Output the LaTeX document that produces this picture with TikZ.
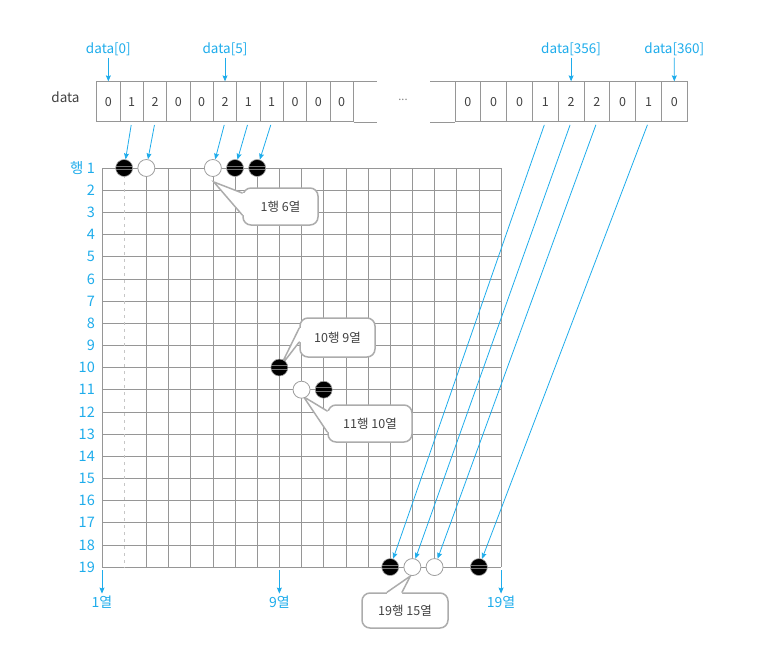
\documentclass[tikz,border=0pt]{standalone}
\usepackage{fontspec}
\setmainfont{Noto Sans CJK KR}
\usetikzlibrary{arrows.meta,calc}
\definecolor{cy}{RGB}{30,172,235}
\definecolor{txt}{RGB}{65,65,65}
\definecolor{gl}{RGB}{150,150,150}
\begin{document}
\begin{tikzpicture}[x=1pt,y=-1pt,
  lab/.style={text=cy,font=\fontsize{13.5}{15}\selectfont,inner sep=1pt},
  rowlab/.style={text=cy,font=\fontsize{14.5}{16}\selectfont,inner sep=0pt,anchor=east},
  lcell/.style={draw=gl,line width=0.7pt,minimum width=23.33pt,minimum height=40pt,inner sep=0pt,text=txt,font=\fontsize{12.5}{14}\selectfont},
  rcell/.style={lcell,minimum width=25.8pt},
  carrow/.style={cy,line width=0.8pt,-{Stealth[length=6pt,width=5pt,inset=1pt]}},
  gridline/.style={gl,line width=0.7pt},
  bstone/.style={circle,minimum size=17pt,inner sep=0pt,fill=black,draw=gray!70,line width=0.6pt,
    path picture={\draw[black!55,line width=0.6pt]
      ([yshift=2.2pt]path picture bounding box.west) -- ([yshift=2.2pt]path picture bounding box.east)
      ([yshift=-1.6pt]path picture bounding box.west) -- ([yshift=-1.6pt]path picture bounding box.east);}},
  wstone/.style={circle,minimum size=17pt,inner sep=0pt,fill=white,draw=gray!75,line width=0.8pt},
  callout/.style={draw=gray!65,line width=1.5pt,fill=white,rounded corners=8pt,inner sep=0pt,text=txt,font=\fontsize{12.5}{14}\selectfont},
  tailline/.style={gray!65,line width=1.5pt,line cap=round}
]
\useasboundingbox (0,0) rectangle (757,650);
\def\cw{22.17}
% ---------- array ----------
\node[text=txt,font=\fontsize{13.5}{15}\selectfont] (dlab) at (65.5,97) {data};
\foreach \v [count=\i from 0] in {0,1,2,0,0,2,1,1,0,0,0}{
  \node[lcell] (L\i) at ({108.35+\i*23.33},101.7) {\v};
}
\draw[gl,line width=0.7pt] (L10.north east) -- ++(23.4,0) (L10.south east) -- ++(23.4,0);
\node[text=gray,font=\fontsize{11}{13}\selectfont] (dots) at (403,100) {...};
\foreach \v [count=\i from 0] in {0,0,0,1,2,2,0,1,0}{
  \node[rcell] (R\i) at ({467.9+\i*25.8},101.7) {\v};
}
\draw[gl,line width=0.7pt] (R0.north west) -- ++(-25,0) (R0.south west) -- ++(-25,0);
% labels above
\node[lab] (d0) at (108.35,49) {data[0]};
\node[lab] (d5) at (225,49) {data[5]};
\node[lab] (d356) at (571.1,49) {data[356]};
\node[lab] (d360) at (674.3,49) {data[360]};
\draw[carrow,shorten <=1pt] (d0) -- (L0);
\draw[carrow,shorten <=1pt] (d5) -- (L5);
\draw[carrow,shorten <=1pt] (d356) -- (R4);
\draw[carrow,shorten <=1pt] (d360) -- (R8);
% ---------- grid ----------
\foreach \r in {1,...,19}{
  \draw[gridline] (102,{168+(\r-1)*\cw}) -- ({102+18*\cw},{168+(\r-1)*\cw});
}
\foreach \c in {1,3,4,...,19}{
  \draw[gridline] ({102+(\c-1)*\cw},168) -- ({102+(\c-1)*\cw},{168+18*\cw});
}
\draw[gray!45,line width=0.7pt,dash pattern=on 3pt off 4pt] ({102+\cw},168) -- ({102+\cw},{168+18*\cw});
% row labels
\node[rowlab] (r1) at (95,168) {행 1};
\foreach \r in {2,...,19}{
  \node[rowlab] (r\r) at (95,{168+(\r-1)*\cw}) {\r};
}
% column labels
\foreach \c/\t in {1/1열,9/9열,19/19열}{
  \coordinate (cb\c) at ({102+(\c-1)*\cw},570);
  \node[lab,font=\fontsize{14}{16}\selectfont] (cl\c) at ({102+(\c-1)*\cw},602) {\t};
  \draw[carrow,shorten >=1pt] (cb\c) -- (cl\c);
}
% ---------- stone coordinates ----------
\foreach \r/\c in {1/2,1/3,1/6,1/7,1/8,10/9,11/10,11/11,19/14,19/15,19/16,19/18}{
  \coordinate (p\r x\c) at ({102+(\c-1)*\cw},{168+(\r-1)*\cw});
}
% ---------- callouts ----------
\node[callout,minimum width=75pt,minimum height=37pt] (c1) at (280.5,206.5) {1행 6열};
\node[callout,minimum width=75pt,minimum height=39pt] (c2) at (337.5,337.5) {10행 9열};
\node[callout,minimum width=84pt,minimum height=37pt] (c3) at (370,423.5) {11행 10열};
\node[callout,minimum width=86pt,minimum height=35pt] (c4) at (405,610.5) {19행 15열};
% tails
\coordinate (t1) at ($(p1x6)+(1,14)$);
\coordinate (t1a) at ($(c1.west)+(0,-13.5)$);
\coordinate (t1b) at ($(c1.west)+(0,8.5)$);
\fill[white] (t1) -- (t1a) -- ($(t1a)+(3,0)$) -- ($(t1b)+(3,0)$) -- (t1b) -- cycle;
\draw[tailline] (t1a) -- (t1) -- (t1b);
\coordinate (t2) at ($(p10x9)+(1,-1)$);
\coordinate (t2a) at ($(c2.west)+(0,-9.5)$);
\coordinate (t2b) at ($(c2.west)+(0,4.5)$);
\fill[white] (t2) -- (t2a) -- ($(t2a)+(3,0)$) -- ($(t2b)+(3,0)$) -- (t2b) -- cycle;
\draw[tailline] (t2a) -- (t2) -- (t2b);
\coordinate (t3) at ($(p11x10)+(2,7)$);
\coordinate (t3a) at ($(c3.west)+(0,-12.5)$);
\coordinate (t3b) at ($(c3.west)+(0,8.5)$);
\fill[white] (t3) -- (t3a) -- ($(t3a)+(3,0)$) -- ($(t3b)+(3,0)$) -- (t3b) -- cycle;
\draw[tailline] (t3a) -- (t3) -- (t3b);
\coordinate (t4) at ($(p19x15)+(-2,9)$);
\coordinate (t4a) at ($(c4.north)+(-18,0)$);
\coordinate (t4b) at ($(c4.north)+(-3,0)$);
\fill[white] (t4) -- (t4a) -- ($(t4a)+(0,3)$) -- ($(t4b)+(0,3)$) -- (t4b) -- cycle;
\draw[tailline] (t4a) -- (t4) -- (t4b);
% ---------- stones ----------
\node[bstone] (s1x2) at (p1x2) {};
\node[wstone] (s1x3) at (p1x3) {};
\node[wstone] (s1x6) at (p1x6) {};
\node[bstone] (s1x7) at (p1x7) {};
\node[bstone] (s1x8) at (p1x8) {};
\node[bstone] (s10x9) at (p10x9) {};
\node[wstone] (s11x10) at (p11x10) {};
\node[bstone] (s11x11) at (p11x11) {};
\node[bstone] (s19x14) at (p19x14) {};
\node[wstone] (s19x15) at (p19x15) {};
\node[wstone] (s19x16) at (p19x16) {};
\node[bstone] (s19x18) at (p19x18) {};
% ---------- arrows from cells ----------
\foreach \k/\s in {1/s1x2,2/s1x3,5/s1x6,6/s1x7,7/s1x8}{
  \draw[carrow,shorten <=3pt] (L\k.south) -- (\s);
}
\foreach \k/\s in {3/s19x14,4/s19x15,5/s19x16,7/s19x18}{
  \draw[carrow,shorten <=3pt] (R\k.south) -- (\s);
}
\end{tikzpicture}
\end{document}
